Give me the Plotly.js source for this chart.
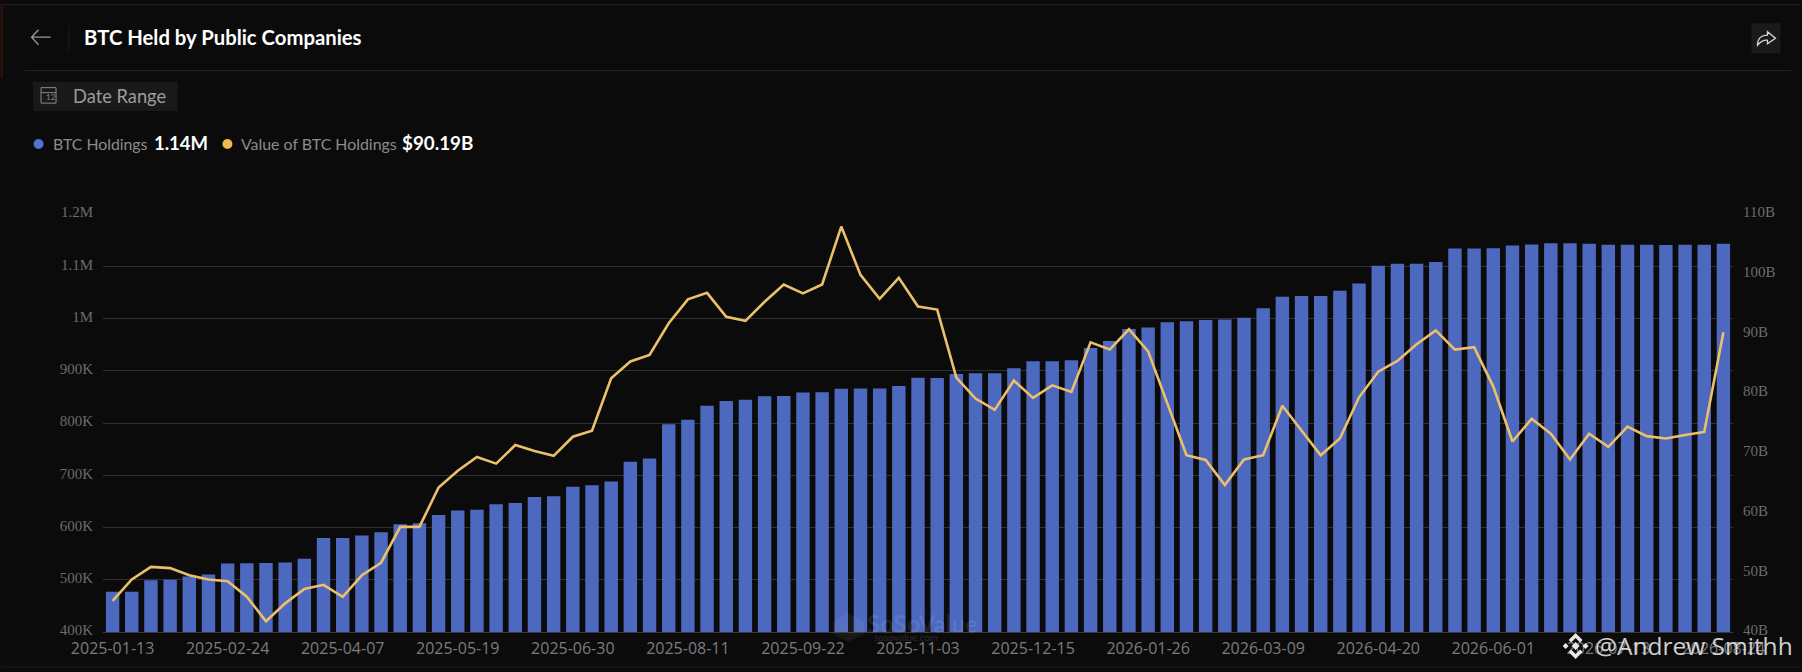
<!DOCTYPE html>
<html>
<head>
<meta charset="utf-8">
<script src="https://cdn.plot.ly/plotly-3.0.1.min.js"></script>
<style>html,body{margin:0;padding:0;background:#0b0b0c;overflow:hidden}#chart{width:1802px;height:672px}</style>
</head>
<body>
<div id="chart"></div>
<script>
const dates = [
"2025-01-13","2025-01-20","2025-01-27","2025-02-03","2025-02-10","2025-02-17","2025-02-24","2025-03-03","2025-03-10","2025-03-17",
"2025-03-24","2025-03-31","2025-04-07","2025-04-14","2025-04-21","2025-04-28","2025-05-05","2025-05-12","2025-05-19","2025-05-26",
"2025-06-02","2025-06-09","2025-06-16","2025-06-23","2025-06-30","2025-07-07","2025-07-14","2025-07-21","2025-07-28","2025-08-04",
"2025-08-11","2025-08-18","2025-08-25","2025-09-01","2025-09-08","2025-09-15","2025-09-22","2025-09-29","2025-10-06","2025-10-13",
"2025-10-20","2025-10-27","2025-11-03","2025-11-10","2025-11-17","2025-11-24","2025-12-01","2025-12-08","2025-12-15","2025-12-22",
"2025-12-29","2026-01-05","2026-01-12","2026-01-19","2026-01-26","2026-02-02","2026-02-09","2026-02-16","2026-02-23","2026-03-02",
"2026-03-09","2026-03-16","2026-03-23","2026-03-30","2026-04-06","2026-04-13","2026-04-20","2026-04-27","2026-05-04","2026-05-11",
"2026-05-18","2026-05-25","2026-06-01","2026-06-08","2026-06-15","2026-06-22","2026-06-29","2026-07-06","2026-07-13","2026-07-20",
"2026-07-27","2026-08-03","2026-08-10","2026-08-17","2026-08-24"];
const btcHoldings = [
477,477,499,500,506,510,531,531.5,532,533,
540,580,580,584.5,591,606,608,624,632.5,634,
644.6,647,658.6,660,678,681,688,726,732,797.8,
806,833,842,844.5,851,851.5,858.5,859,865.5,866,
866,870.6,886.6,886,894,895,895,905,918,918,
920,943.5,957,980,983,993,994.5,997,998,1001.6,
1019.4,1041.8,1043,1043,1053,1067,1101,1105,1105,1108,
1134,1134,1134.4,1139.5,1141.4,1144,1144,1143,1141,1141,
1141,1140.5,1141,1141,1143].map(v => v * 1000);
const holdingsValue = [
45.2,48.8,50.9,50.7,49.5,48.8,48.5,45.9,41.8,44.8,
47.2,47.9,45.9,49.5,51.6,57.6,57.6,64.2,67,69.3,
68.2,71.3,70.3,69.5,72.7,73.7,82.5,85.3,86.4,91.7,
95.7,96.8,92.8,92.1,95.3,98.2,96.7,98.2,107.9,99.8,
95.8,99.3,94.5,94,82.6,79.1,77.2,82.1,79.2,81.3,
80.2,88.5,87.3,90.7,87,78.3,69.6,68.8,64.6,68.9,
69.6,77.9,73.8,69.6,72.4,79.3,83.6,85.4,88.2,90.5,
87.3,87.7,81.1,71.9,75.7,73.2,68.9,73.2,71,74.4,
72.8,72.4,73,73.5,90.2].map(v => v * 1e9);
const xTickDates = ["2025-01-13","2025-02-24","2025-04-07","2025-05-19","2025-06-30","2025-08-11","2025-09-22","2025-11-03","2025-12-15","2026-01-26","2026-03-09","2026-04-20","2026-06-01","2026-07-13","2026-08-24"];
const leftTickVals = [400000,500000,600000,700000,800000,900000,1000000,1100000,1200000];
const leftTickText = ["400K","500K","600K","700K","800K","900K","1M","1.1M","1.2M"];
const rightTickVals = [40e9,50e9,60e9,70e9,80e9,90e9,100e9,110e9];
const rightTickText = ["40B","50B","60B","70B","80B","90B","100B","110B"];

const W = 1802, H = 672;
const M = {l:102.5, r:W-1733.5, t:213.5, b:H-632};
const PW = W-M.l-M.r, PH = H-M.t-M.b;
const px = x => (x-M.l)/PW;
const py = y => 1-(y-M.t)/PH;

const BG = '#0b0b0c', LATO = 'Lato, sans-serif';
const txt = (x,y,text,size,color,bold,extra) => Object.assign({
  xref:'paper',yref:'paper',x:px(x),y:py(y),xanchor:'left',yanchor:'middle',showarrow:false,
  text:bold?'<b>'+text+'</b>':text,font:{family:LATO,size:size,color:color}},extra||{});
const pathShape = (d,color,width,fill) => ({type:'path',xref:'paper',yref:'paper',
  path:d.replace(/(-?[\d.]+),(-?[\d.]+)/g,(m,a,b)=>px(+a)+','+py(+b)),
  line:{color:color,width:width},fillcolor:fill||'rgba(0,0,0,0)',layer:'above'});
const rect = (x0,y0,x1,y1,fill,line) => ({type:'rect',xref:'paper',yref:'paper',x0:px(x0),x1:px(x1),y0:py(y0),y1:py(y1),
  fillcolor:fill,line:{color:line||'rgba(0,0,0,0)',width:line?1:0},layer:'below'});
const circle = (cx,cy,r,fill) => ({type:'circle',xref:'paper',yref:'paper',x0:px(cx-r),x1:px(cx+r),y0:py(cy+r),y1:py(cy-r),fillcolor:fill,line:{width:0},layer:'above'});
const hline = (x0,x1,y,color) => ({type:'line',xref:'paper',yref:'paper',x0:px(x0),x1:px(x1),y0:py(y),y1:py(y),line:{color:color,width:1},layer:'below'});

const WM = '#e8e8e8';
const shapes = [
  hline(0,1802,4,'#232324'),
  hline(0,1802,667,'#1d1d1e'),
  hline(24,1792,70,'#262627'),
  rect(0,5,2.5,78,'#2a120c'),
  {type:'line',xref:'paper',yref:'paper',x0:px(68.5),x1:px(68.5),y0:py(25),y1:py(50),line:{color:'#1e1e1f',width:1},layer:'below'},
  pathShape('M31,36.5 L50,36.5 M38,29 L31,36.5 L38,44','#9a9a9a',1.3),
  rect(32.5,81,177,110.5,'#19191a'),
  rect(40.5,87,55.5,102.5,'rgba(0,0,0,0)','#8a8a8a'),
  hline(40.5,55.5,92,'#8a8a8a'),
  rect(1752,22.5,1781,52.5,'#1a1a1b'),
  pathShape('M1768,31 L1776,37.5 L1768,43 L1768,39.5 C1764,39 1761,41 1758,44.5 C1758,38 1762,34.5 1768,34.5 Z','#d8d8d8',1.3),
  circle(38,143.5,5,'#5570cf'),
  circle(227,143.5,5,'#f2b84b'),
  // faint SoSoValue logo
  pathShape('M848,613 L864,622 L864,634 L848,642 L833,634 L833,622 Z','rgba(255,255,255,0.06)',0,'rgba(255,255,255,0.06)'),
  // Binance-style diamond of the watermark
  pathShape('M1576,642 L1580,646 L1576,650 L1572,646 Z',WM,0,WM),
  pathShape('M1576,633 L1583,640 L1580.5,642.5 L1576,638 L1571.5,642.5 L1569,640 Z',WM,0,WM),
  pathShape('M1576,659 L1583,652 L1580.5,649.5 L1576,654 L1571.5,649.5 L1569,652 Z',WM,0,WM),
  pathShape('M1563,646 L1566,643 L1569,646 L1566,649 Z',WM,0,WM),
  pathShape('M1583,646 L1586,643 L1589,646 L1586,649 Z',WM,0,WM)
];

const annotations = [
  txt(81,36,'BTC Held by Public Companies',20.3,'#ffffff',true),
  txt(70.5,95.5,'Date Range',18.3,'#9c9c9c',false),
  txt(43,96.5,'12',8,'#8a8a8a',false),
  txt(50.5,143,'BTC Holdings',15.8,'#8c8c8c',false),
  txt(151.5,142,'1.14M',18.5,'#ffffff',true),
  txt(238.5,143,'Value of BTC Holdings',15.9,'#8c8c8c',false),
  txt(399.5,142,'$90.19B',18.8,'#ffffff',true),
  txt(1593,646,'@Andrew Smithh',24.5,'rgba(235,235,235,0.88)',false,{font:{family:'"Open Sans", sans-serif',size:24.5,color:'rgba(235,235,235,0.88)'}}),
  txt(865,623,'SoSoValue',24,'rgba(255,255,255,0.09)',true),
  txt(872,637,'sosovalue.com',10,'rgba(255,255,255,0.14)',false)
];

const bars = {type:'bar',name:'BTC Holdings',x:dates,y:btcHoldings,yaxis:'y',
  marker:{color:'rgba(80,107,197,0.97)',line:{width:0}},width:0.7};
const line = {type:'scatter',mode:'lines',name:'Value of BTC Holdings',x:dates,y:holdingsValue,yaxis:'y2',
  line:{color:'#ecc06a',width:2.6,shape:'linear'}};

const layout = {
  width:W,height:H,margin:{l:M.l,r:M.r,t:M.t,b:M.b,pad:0},
  paper_bgcolor:BG,plot_bgcolor:BG,showlegend:false,bargap:0.3,
  xaxis:{type:'category',categoryorder:'array',categoryarray:dates,range:[-0.5,84.5],
    tickmode:'array',tickvals:xTickDates,ticktext:xTickDates,tickangle:0,
    tickfont:{family:'"Open Sans", sans-serif',size:16,color:'#7c7c7c'},
    showgrid:false,zeroline:false,showline:true,linecolor:'#3a3a3b',linewidth:1,ticks:'',ticklen:0,ticklabelstandoff:2},
  yaxis:{range:[400000,1200000],tickmode:'array',tickvals:leftTickVals,ticktext:leftTickText,
    tickfont:{family:'"Liberation Serif", serif',size:15,color:'#6c6c6c'},
    showgrid:true,gridcolor:'#303031',gridwidth:1,zeroline:false,showline:false,ticks:'',ticklabelstandoff:9,ticklabelshift:-2},
  yaxis2:{overlaying:'y',side:'right',range:[40e9,110e9],tickmode:'array',tickvals:rightTickVals,ticktext:rightTickText,
    tickfont:{family:'"Liberation Serif", serif',size:15,color:'#6c6c6c'},
    showgrid:false,zeroline:false,showline:false,ticks:'',ticklabelstandoff:9,ticklabelshift:-2},
  shapes:shapes,annotations:annotations
};
Plotly.newPlot('chart',[bars,line],layout,{displayModeBar:false,staticPlot:true});
</script>
</body>
</html>
